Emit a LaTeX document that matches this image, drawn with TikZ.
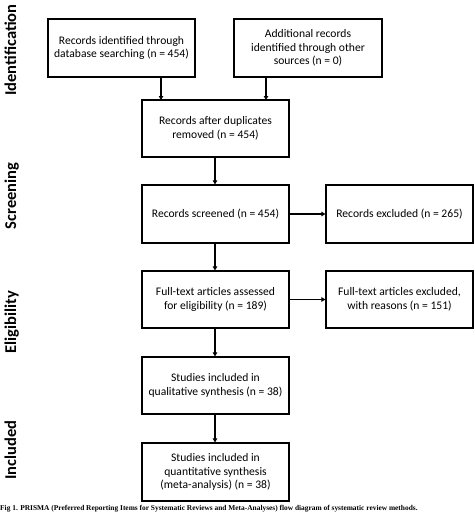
\documentclass[tikz,border=0pt]{standalone}
\usepackage{fontspec}
\setmainfont{Carlito}
\newfontfamily\capfont{Liberation Serif}
\usetikzlibrary{arrows.meta}
\begin{document}
\begin{tikzpicture}[x=1pt,y=-1pt,
  box/.style={draw, line width=1.2pt, align=center, inner sep=0pt,
    font=\fontsize{11.6}{13.5}\selectfont},
  conn/.style={line width=1.4pt, -{Triangle[length=4pt,width=4.5pt]}},
  phase/.style={rotate=90, font=\fontsize{16.5}{18}\selectfont\bfseries, anchor=north}]
\useasboundingbox (0,0) rectangle (474,514);
\path[fill=white] (0,0) rectangle (474,514);
\node[box, minimum width=147, minimum height=58] (b1) at (121.5,48) {Records identified through\\database searching (n = 454)};
\node[box, minimum width=148, minimum height=58] (b2) at (308,48) {Additional records\\identified through other\\sources (n = 0)};
\node[box, minimum width=147, minimum height=57] (b3) at (215.5,128.5) {Records after duplicates\\removed (n = 454)};
\node[box, minimum width=147, minimum height=58] (b4) at (215.5,214) {Records screened (n = 454)};
\node[box, minimum width=147, minimum height=58] (b5) at (399.5,214) {Records excluded (n = 265)};
\node[box, minimum width=147, minimum height=57] (b6) at (215.5,299.5) {Full-text articles assessed\\for eligibility (n = 189)};
\node[box, minimum width=147, minimum height=57] (b7) at (399.5,299.5) {Full-text articles excluded,\\with reasons (n = 151)};
\node[box, minimum width=147, minimum height=57] (b8) at (215.5,385.5) {Studies included in\\qualitative synthesis (n = 38)};
\node[box, minimum width=147, minimum height=58] (b9) at (215.5,472) {Studies included in\\quantitative synthesis\\(meta-analysis) (n = 38)};
\coordinate (t1) at (161,100);
\coordinate (t2) at (266,100);
\coordinate (c) at (215,0);
\draw[conn] (b1.south -| t1) -- (t1);
\draw[conn] (b2.south -| t2) -- (t2);
\draw[conn] (b3.south -| c) -- (b4.north -| c);
\draw[conn] (b4) -- (b5);
\draw[conn] (b4.south -| c) -- (b6.north -| c);
\draw[conn] (b6) -- (b7);
\draw[conn] (b6.south -| c) -- (b8.north -| c);
\draw[conn] (b8.south -| c) -- (b9.north -| c);
\node[phase] (p1) at (1,50) {Identification};
\node[phase] (p2) at (1,196) {Screening};
\node[phase] (p3) at (1,322) {Eligibility};
\node[phase] (p4) at (1,450) {Included};
\node[anchor=north west, inner sep=0pt, font=\capfont\bfseries\fontsize{7.4}{8}\selectfont] (cap) at (0,505.5) {Fig 1. PRISMA (Preferred Reporting Items for Systematic Reviews and Meta-Analyses) flow diagram of systematic review methods.};
\end{tikzpicture}
\end{document}
